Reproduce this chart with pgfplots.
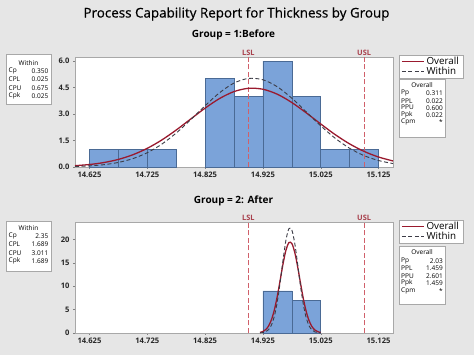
\documentclass[border=0pt]{standalone}
\usepackage{pgfplots}
\pgfplotsset{compat=1.18}
\usepackage{fontspec}
\setmainfont{Open Sans}
\newfontfamily\titlefont{Open Sans}[FakeBold=0.5]
\definecolor{bg}{HTML}{E6E6E6}
\definecolor{barblue}{HTML}{7BA3D9}
\definecolor{baredge}{HTML}{4A6A95}
\definecolor{ovred}{HTML}{9A1A2E}
\definecolor{wigray}{HTML}{3C3C46}
\definecolor{speclin}{HTML}{D0606A}
\definecolor{spectxt}{HTML}{A8404C}
\definecolor{boxedge}{HTML}{A8A8A8}
\pgfplotsset{
  capstyle/.style={
    scale only axis, width=318pt,
    xmin=14.6, xmax=15.15,
    axis background/.style={fill=white},
    axis line style={boxedge},
    tick align=outside, major tick length=2pt,
    tick style={gray, line width=0.4pt},
    xtick={14.625,14.725,14.825,14.925,15.025,15.125},
    xticklabels={14.625,14.725,14.825,14.925,15.025,15.125},
    ticklabel style={font=\fontsize{7.6}{9}\selectfont\bfseries, text=black!85},
    /pgf/number format/assume math mode=true,
    xtick pos=bottom, ytick pos=left,
    xticklabel style={yshift=1pt},
    clip=false,
    legend cell align=left,
    legend style={draw=boxedge, font=\fontsize{9.8}{10}\selectfont, inner xsep=2pt, inner ysep=0pt, row sep=-3pt,
      at={(1.019,1.018)}, anchor=north west, fill=white},
    legend image code/.code={\draw[#1] (0pt,0pt) -- (22pt,0pt);},
  }
}
\begin{document}
\begin{tikzpicture}[x=1pt,y=1pt]
\fill[bg] (0,0) rectangle (474,355);
\node[font=\fontsize{13.4}{15}\titlefont] at (236.5,341) {Process Capability Report for Thickness by Group};
\node[font=\fontsize{10}{11}\selectfont\bfseries] at (233.5,320) {Group = 1:Before};
\node[font=\fontsize{10}{11}\selectfont\bfseries] at (233.5,154) {Group = 2: After};

% ---------- top panel ----------
\begin{axis}[capstyle, at={(75pt,188pt)}, anchor=south west, height=110pt,
  ymin=0, ymax=6.23,
  ytick={0,1.5,3,4.5,6}, yticklabels={0.0,1.5,3.0,4.5,6.0}]
\addplot[ybar interval, fill=barblue, draw=baredge, line width=0.5pt, forget plot]
  coordinates {(14.625,1)(14.675,1)(14.725,1)(14.775,1)};
\addplot[ybar interval, fill=barblue, draw=baredge, line width=0.5pt, forget plot]
  coordinates {(14.825,5)(14.875,4)(14.925,6)(14.975,4)(15.025,1)(15.075,1)(15.125,1)};
\addplot[speclin, dash pattern=on 5pt off 2.5pt, line width=0.8pt, forget plot] coordinates {(14.9,0)(14.9,6.23)};
\addplot[speclin, dash pattern=on 5pt off 2.5pt, line width=0.8pt, forget plot] coordinates {(15.1,0)(15.1,6.23)};
\addplot[ovred, line width=1.3pt, smooth] coordinates {
(14.600,0.074)(14.625,0.140)(14.650,0.252)(14.675,0.429)(14.700,0.692)(14.725,1.057)
(14.750,1.527)(14.775,2.093)(14.800,2.714)(14.825,3.333)(14.850,3.877)(14.875,4.271)
(14.900,4.457)(14.925,4.404)(14.950,4.121)(14.975,3.652)(15.000,3.065)(15.025,2.437)
(15.050,1.834)(15.075,1.308)(15.100,0.884)(15.125,0.565)(15.150,0.342)};
\addlegendentry{Overall}
\addplot[wigray, dash pattern=on 4pt off 2.5pt, line width=0.9pt, smooth] coordinates {
(14.600,0.028)(14.625,0.063)(14.650,0.131)(14.675,0.258)(14.700,0.473)(14.725,0.809)
(14.750,1.291)(14.775,1.923)(14.800,2.674)(14.825,3.471)(14.850,4.205)(14.875,4.754)
(14.900,5.016)(14.925,4.941)(14.950,4.542)(14.975,3.897)(15.000,3.121)(15.025,2.333)
(15.050,1.628)(15.075,1.060)(15.100,0.644)(15.125,0.366)(15.150,0.194)};
\addlegendentry{Within}
\node[above, text=spectxt, font=\fontsize{7.4}{8}\selectfont\bfseries, inner sep=1.5pt] at (axis cs:14.9,6.23) {LSL};
\node[above, text=spectxt, font=\fontsize{7.4}{8}\selectfont\bfseries, inner sep=1.5pt] at (axis cs:15.1,6.23) {USL};
\end{axis}

% ---------- bottom panel ----------
\begin{axis}[capstyle, at={(75pt,22pt)}, anchor=south west, height=111pt,
  ymin=0, ymax=23.7,
  ytick={0,5,10,15,20}, yticklabels={0,5,10,15,20}]
\addplot[ybar interval, fill=barblue, draw=baredge, line width=0.5pt, forget plot]
  coordinates {(14.925,9)(14.975,7)(15.025,7)};
\addplot[speclin, dash pattern=on 5pt off 2.5pt, line width=0.8pt, forget plot] coordinates {(14.9,0)(14.9,23.7)};
\addplot[speclin, dash pattern=on 5pt off 2.5pt, line width=0.8pt, forget plot] coordinates {(15.1,0)(15.1,23.7)};
\addplot[ovred, line width=1.3pt, smooth] coordinates {
(14.920,0.129)(14.925,0.323)(14.930,0.738)(14.935,1.534)(14.940,2.910)(14.945,5.031)
(14.950,7.924)(14.955,11.376)(14.960,14.885)(14.965,17.751)(14.970,19.296)(14.975,19.117)
(14.980,17.265)(14.985,14.211)(14.990,10.661)(14.995,7.288)(15.000,4.543)(15.005,2.580)
(15.010,1.336)(15.015,0.630)(15.020,0.271)(15.025,0.106)};
\addlegendentry{Overall}
\addplot[wigray, dash pattern=on 4pt off 2.5pt, line width=0.9pt, smooth] coordinates {
(14.920,0.027)(14.925,0.093)(14.930,0.281)(14.935,0.749)(14.940,1.766)(14.945,3.677)
(14.950,6.757)(14.955,10.971)(14.960,15.730)(14.965,19.919)(14.970,22.277)(14.975,22.003)
(14.980,19.190)(14.985,14.783)(14.990,10.058)(14.995,6.044)(15.000,3.206)(15.005,1.503)
(15.010,0.622)(15.015,0.227)(15.020,0.073)(15.025,0.021)};
\addlegendentry{Within}
\node[above, text=spectxt, font=\fontsize{7.4}{8}\selectfont\bfseries, inner sep=1.5pt] at (axis cs:14.9,23.7) {LSL};
\node[above, text=spectxt, font=\fontsize{7.4}{8}\selectfont\bfseries, inner sep=1.5pt] at (axis cs:15.1,23.7) {USL};
\end{axis}

% ---------- stats boxes ----------
\tikzset{stat/.style={font=\fontsize{6.5}{7}\selectfont, inner sep=0pt}}
% top within
\draw[boxedge, fill=white] (6,301) rectangle (51,251);
\node[stat] at (28.5,292.3) {Within};
\foreach \l/\v/\y in {Cp/0.350/284, CPL/0.025/275.7, CPU/0.675/267.3, Cpk/0.025/259}{
  \node[stat, anchor=west] at (8.5,\y) {\l};
  \node[stat, anchor=east] at (48.5,\y) {\v};}
% bottom within
\draw[boxedge, fill=white] (6,133.3) rectangle (51,84);
\node[stat] at (28.5,127.3) {Within};
\foreach \l/\v/\y in {Cp/2.35/119.3, CPL/1.689/111, CPU/3.011/102.3, Cpk/1.689/94}{
  \node[stat, anchor=west] at (8.5,\y) {\l};
  \node[stat, anchor=east] at (48.5,\y) {\v};}
% top overall
\draw[boxedge, fill=white] (399,276) rectangle (445,218);
\node[stat] at (422,270) {Overall};
\foreach \l/\v/\y in {Pp/0.311/261.7, PPL/0.022/254.3, PPU/0.600/247.3, Ppk/0.022/240, Cpm/*/232.7}{
  \node[stat, anchor=west] at (401,\y) {\l};
  \node[stat, anchor=east] at (443,\y) {\v};}
% bottom overall
\draw[boxedge, fill=white] (399,109) rectangle (445,51);
\node[stat] at (422,103.3) {Overall};
\foreach \l/\v/\y in {Pp/2.03/94, PPL/1.459/86.7, PPU/2.601/79, Ppk/1.459/71.7, Cpm/*/64.3}{
  \node[stat, anchor=west] at (401,\y) {\l};
  \node[stat, anchor=east] at (443,\y) {\v};}
\end{tikzpicture}
\end{document}
